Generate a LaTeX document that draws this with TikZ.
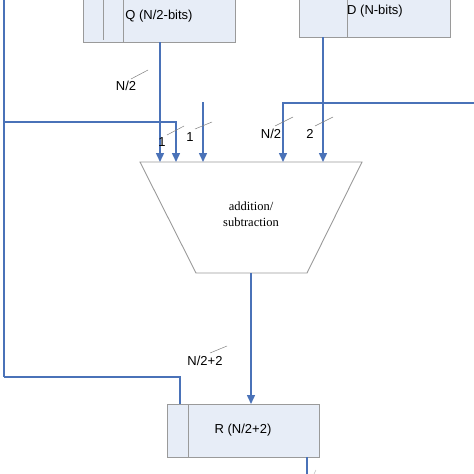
\documentclass[tikz,border=0pt]{standalone}
\usepackage{fontspec}
\setmainfont{Liberation Sans}
\newfontfamily\serifff{Liberation Serif}
\usetikzlibrary{arrows.meta}
\definecolor{wire}{HTML}{4A72B8}
\definecolor{boxfill}{HTML}{E7EDF7}
\definecolor{boxline}{HTML}{9A9A9A}
\tikzset{
  regbox/.style={draw=boxline, fill=boxfill, line width=0.9pt, inner sep=0pt, anchor=north west},
  wireline/.style={draw=wire, line width=1.5pt},
  arr/.style={wireline, -{Triangle[width=8pt,length=9pt]}},
  tick/.style={draw=gray, line width=0.5pt},
  lbl/.style={font=\fontsize{13}{15}\selectfont, inner sep=0pt},
}
\begin{document}
\begin{tikzpicture}[x=1pt,y=-1pt]
\useasboundingbox (0,0) rectangle (474,474);
% boxes
\node[regbox, minimum width=152pt, minimum height=52pt] (Q) at (83,-10) {};
\draw[boxline, line width=0.5pt] (103,-10) -- (103,40);
\draw[boxline, line width=0.7pt] (123,-10) -- (123,42);
\node[lbl] (qt) at (159,16) {Q (N/2-bits)};
\node[regbox, minimum width=151pt, minimum height=47pt] (D) at (299,-10) {};
\draw[boxline, line width=0.7pt] (347,-10) -- (347,37);
\node[lbl] (dt) at (375,11) {D (N-bits)};
\node[regbox, minimum width=152pt, minimum height=53pt] (R) at (167,404) {};
\draw[boxline, line width=0.7pt] (188,404) -- (188,457);
\node[lbl] (rt) at (243,430) {R (N/2+2)};
% trapezoid
\coordinate (t1) at (140,162);
\coordinate (t2) at (362,162);
\coordinate (t3) at (307,273);
\coordinate (t4) at (196,273);
\draw[boxline, line width=0.9pt] (t1) -- (t2) -- (t3) -- (t4) -- cycle;
\node[font=\serifff\fontsize{12.5}{16.5}\selectfont, align=center] (alu) at (251,214) {addition/\\subtraction};
% connectors
\coordinate (q1) at (160,42);
\coordinate (q1e) at (160,162);
\draw[arr] (q1) -- (q1e);
\coordinate (l0) at (4,-5);
\coordinate (l1) at (4,122);
\coordinate (l2) at (176,122);
\coordinate (l3) at (176,162);
\draw[wireline] (l0) -- (4,377);
\draw[arr] (l1) -- (l2) -- (l3);
\coordinate (c0) at (203,102);
\coordinate (c1) at (203,162);
\draw[arr] (c0) -- (c1);
\coordinate (d1) at (323,37);
\coordinate (d1e) at (323,162);
\draw[arr] (d1) -- (d1e);
\coordinate (r0) at (480,103);
\coordinate (r1) at (283,103);
\coordinate (r2) at (283,162);
\draw[arr] (r0) -- (r1) -- (r2);
\coordinate (o0) at (251,273);
\coordinate (o1) at (251,404);
\draw[arr] (o0) -- (o1);
\coordinate (b0) at (4,377);
\coordinate (b1) at (180,377);
\coordinate (b2) at (180,404);
\draw[wireline] (b0) -- (b1) -- (b2);
\coordinate (s0) at (307,457);
\coordinate (s1) at (307,480);
\draw[wireline] (s0) -- (s1);
% labels and ticks
\node[lbl] (n1) at (126,86) {N/2};
\draw[tick] (131,79) -- (148,70);
\node[lbl] (n2) at (162,142) {1};
\draw[tick] (167,135) -- (184,126);
\node[lbl] (n3) at (190,137) {1};
\draw[tick] (195,129) -- (212,122);
\node[lbl] (n4) at (271,134) {N/2};
\draw[tick] (275,126) -- (293,117);
\node[lbl] (n5) at (310,134) {2};
\draw[tick] (315,126) -- (333,117);
\node[lbl] (n6) at (205,361) {N/2+2};
\draw[tick] (210,353) -- (227,346);
\draw[tick, gray!50] (314,474) -- (316,470);
\end{tikzpicture}
\end{document}
